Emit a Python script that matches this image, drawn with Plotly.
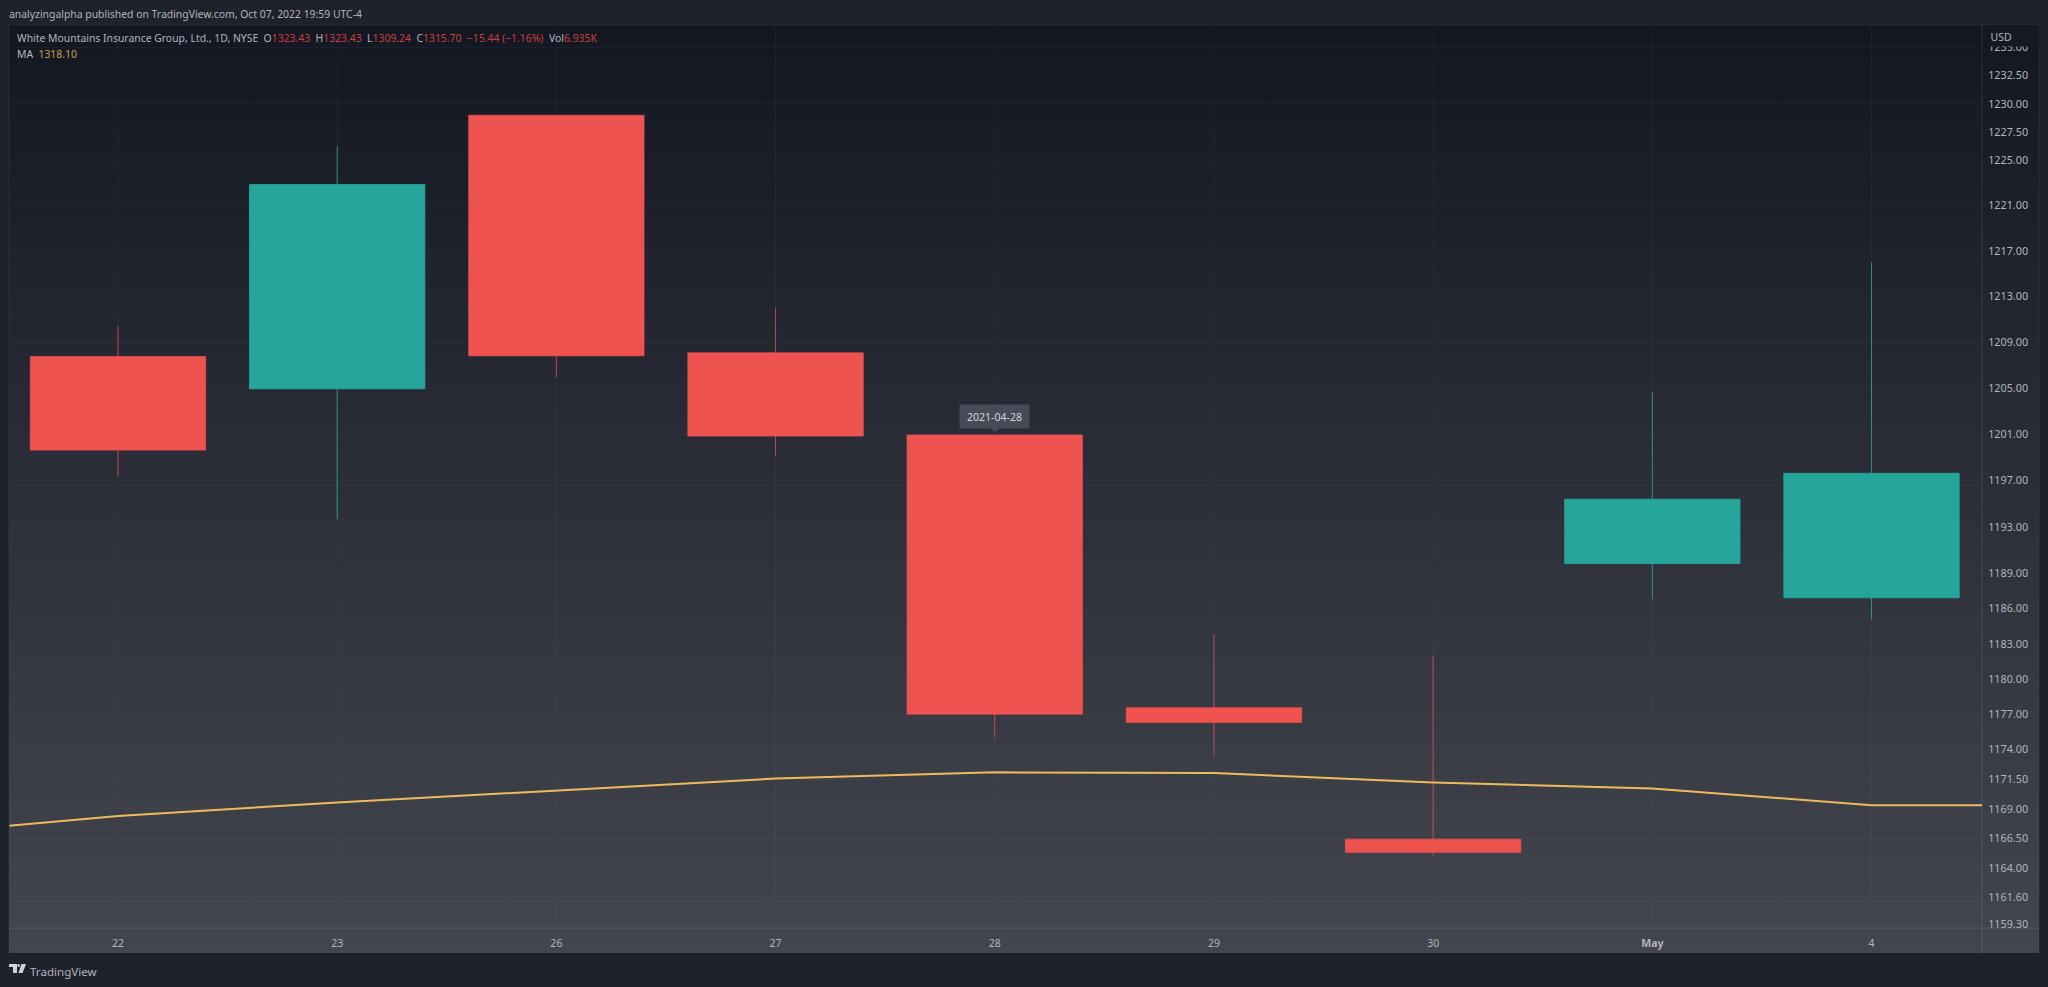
import base64
import math
import plotly.graph_objects as go

W, H = 2048, 987

dates = ['2021-04-22', '2021-04-23', '2021-04-26', '2021-04-27', '2021-04-28',
         '2021-04-29', '2021-04-30', '2021-05-03', '2021-05-04']
open_vals = [1207.77, 1204.96, 1228.98, 1208.09, 1200.95, 1177.55, 1166.44, 1189.87, 1186.93]
high_vals = [1210.41, 1226.21, 1228.98, 1212.03, 1200.95, 1183.79, 1181.98, 1204.66, 1216.01]
low_vals = [1197.41, 1193.68, 1205.95, 1199.16, 1175.02, 1173.59, 1165.08, 1186.82, 1185.05]
close_vals = [1199.65, 1222.86, 1207.83, 1200.86, 1177.01, 1176.31, 1165.33, 1195.40, 1197.64]

# moving average carries on past both edges of the window
ma_dates = ['2021-04-21'] + dates + ['2021-05-05']
ma_vals = [1166.75, 1168.40, 1169.53, 1170.54, 1171.55, 1172.08, 1172.02, 1171.22, 1170.71, 1169.30, 1169.28]

x_labels = ['22', '23', '26', '27', '28', '29', '30', '<b>May</b>', '4']
price_ticks = [1235, 1232.5, 1230, 1227.5, 1225, 1221, 1217, 1213, 1209, 1205, 1201, 1197, 1193, 1189,
               1186, 1183, 1180, 1177, 1174, 1171.5, 1169, 1166.5, 1164, 1161.6, 1159.3]

UP = '#26a69a'
DOWN = '#ef5350'
TEXT = '#b2b5be'
FONT = 'Noto Sans'


def px(x):
    return x / W


def py(y):
    return 1 - y / H


def line_shape(x0, y0, x1, y1, color):
    return dict(type='line', xref='paper', yref='paper', x0=px(x0), y0=py(y0), x1=px(x1), y1=py(y1),
                line=dict(color=color, width=1), layer='above')


def poly(points, color):
    path = 'M ' + ' L '.join(f'{px(a):.5f},{py(b):.5f}' for a, b in points) + ' Z'
    return dict(type='path', xref='paper', yref='paper', path=path, fillcolor=color, line=dict(width=0), layer='above')


def label(x, y, text, size=10.5, color=TEXT):
    return dict(xref='paper', yref='paper', x=px(x), y=py(y), text=text, showarrow=False, xanchor='left',
                yanchor='middle', font=dict(family=FONT, size=size, color=color))


# the pane has a vertical gradient behind everything
svg = ('<svg xmlns="http://www.w3.org/2000/svg" width="100" height="100" preserveAspectRatio="none">'
       '<defs><linearGradient id="g" x1="0" y1="0" x2="0" y2="1">'
       '<stop offset="0" stop-color="#131722"/><stop offset="1" stop-color="#44464f"/>'
       '</linearGradient></defs><rect width="100" height="100" fill="url(#g)"/></svg>')
bg_src = 'data:image/svg+xml;base64,' + base64.b64encode(svg.encode()).decode()

fig = go.Figure()
fig.add_trace(go.Candlestick(
    x=dates, open=open_vals, high=high_vals, low=low_vals, close=close_vals,
    increasing=dict(line=dict(color='rgba(38,166,154,0.85)', width=1), fillcolor=UP),
    decreasing=dict(line=dict(color='rgba(239,83,80,0.75)', width=1), fillcolor=DOWN),
    showlegend=False,
))
fig.add_trace(go.Scatter(x=ma_dates, y=ma_vals, mode='lines', showlegend=False,
                         line=dict(color='#eebb5c', width=2)))

red = '#c9403f'
row1 = ('White Mountains Insurance Group, Ltd., 1D, NYSE&nbsp;&nbsp;'
        f'O<span style="color:{red}">1323.43</span>&nbsp;&nbsp;H<span style="color:{red}">1323.43</span>&nbsp;&nbsp;'
        f'L<span style="color:{red}">1309.24</span>&nbsp;&nbsp;C<span style="color:{red}">1315.70</span>&nbsp;&nbsp;'
        f'<span style="color:{red}">−15.44 (−1.16%)</span>&nbsp;&nbsp;Vol<span style="color:{red}">6.935K</span>')

annotations = [
    label(7, 14, 'analyzingalpha published on TradingView.com, Oct 07, 2022 19:59 UTC-4', size=10.4),
    label(15, 38, row1, size=10.4),
    label(15, 54, 'MA&nbsp;&nbsp;<span style="color:#c9a24c">1318.10</span>', size=10.4),
    label(28, 973, 'TradingView', size=11.6),
    dict(xref='paper', yref='paper', x=px(1984), y=py(26), xanchor='left', yanchor='top', width=54, height=19,
         text='&nbsp;&nbsp;USD', showarrow=False, align='left', bgcolor='#151923', borderpad=0,
         font=dict(family=FONT, size=10.5, color=TEXT)),
    dict(xref='x', yref='paper', x=dates[4], y=py(417.5), xanchor='center', yanchor='middle', width=69, height=23,
         text='2021-04-28', showarrow=False, bgcolor='#484b57', borderpad=0,
         font=dict(family=FONT, size=10.5, color='#d1d4dc')),
]

grid = 'rgba(240,243,250,0.03)'
edge = 'rgba(240,243,250,0.11)'
shapes = [
    line_shape(1982, 25, 1982, 955, edge),
    line_shape(9, 930, 2039, 930, edge),
    line_shape(9, 25, 9, 955, 'rgba(240,243,250,0.06)'),
    line_shape(2039, 25, 2039, 955, 'rgba(240,243,250,0.06)'),
    line_shape(9, 25, 2039, 25, 'rgba(240,243,250,0.06)'),
    poly([(990, 429), (1000, 429), (995, 433)], '#484b57'),
    # TradingView mark
    poly([(9, 966), (17, 966), (17, 975), (13, 975), (13, 969), (9, 969)], '#d1d4dc'),
    poly([(21.5, 966), (26, 966), (22.5, 975), (18.5, 975)], '#d1d4dc'),
    dict(type='circle', xref='paper', yref='paper', x0=px(17.3), y0=py(966), x1=px(20), y1=py(969),
         fillcolor='#d1d4dc', line=dict(width=0), layer='above'),
]

fig.update_layout(
    width=W, height=H,
    margin=dict(l=0, r=0, t=0, b=0),
    paper_bgcolor='#1e222d',
    plot_bgcolor='rgba(0,0,0,0)',
    boxgap=0.2,
    boxgroupgap=0,
    showlegend=False,
    annotations=annotations,
    shapes=shapes,
    images=[dict(source=bg_src, xref='paper', yref='paper', x=px(9), y=py(25), sizex=px(2039 - 9),
                 sizey=(955 - 25) / H, sizing='stretch', xanchor='left', yanchor='top', layer='below')],
)
fig.update_xaxes(
    domain=[px(9.5), px(1982)],
    type='category', categoryorder='array', categoryarray=ma_dates,
    range=[0.5051, 9.504],
    rangeslider=dict(visible=False),
    tickmode='array', tickvals=dates, ticktext=x_labels,
    showgrid=True, gridcolor=grid, gridwidth=1, zeroline=False, showline=False,
    ticks='outside', ticklen=5, tickcolor='rgba(0,0,0,0)',
    tickfont=dict(family=FONT, size=10.5, color=TEXT),
)
fig.update_yaxes(
    domain=[py(930.7), py(25.7)],
    type='log', side='right',
    range=[math.log10(1158.92), math.log10(1236.95)],
    tickmode='array', tickvals=price_ticks, ticktext=[f'{v:.2f}' for v in price_ticks],
    showgrid=True, gridcolor=grid, gridwidth=1, zeroline=False, showline=False,
    ticks='outside', ticklen=3, tickcolor='rgba(0,0,0,0)',
    tickfont=dict(family=FONT, size=10.8, color=TEXT),
)

fig.write_html("out.html", config=dict(displayModeBar=False),
               post_script="document.body.style.margin='0';document.body.style.background='#1e222d';")
